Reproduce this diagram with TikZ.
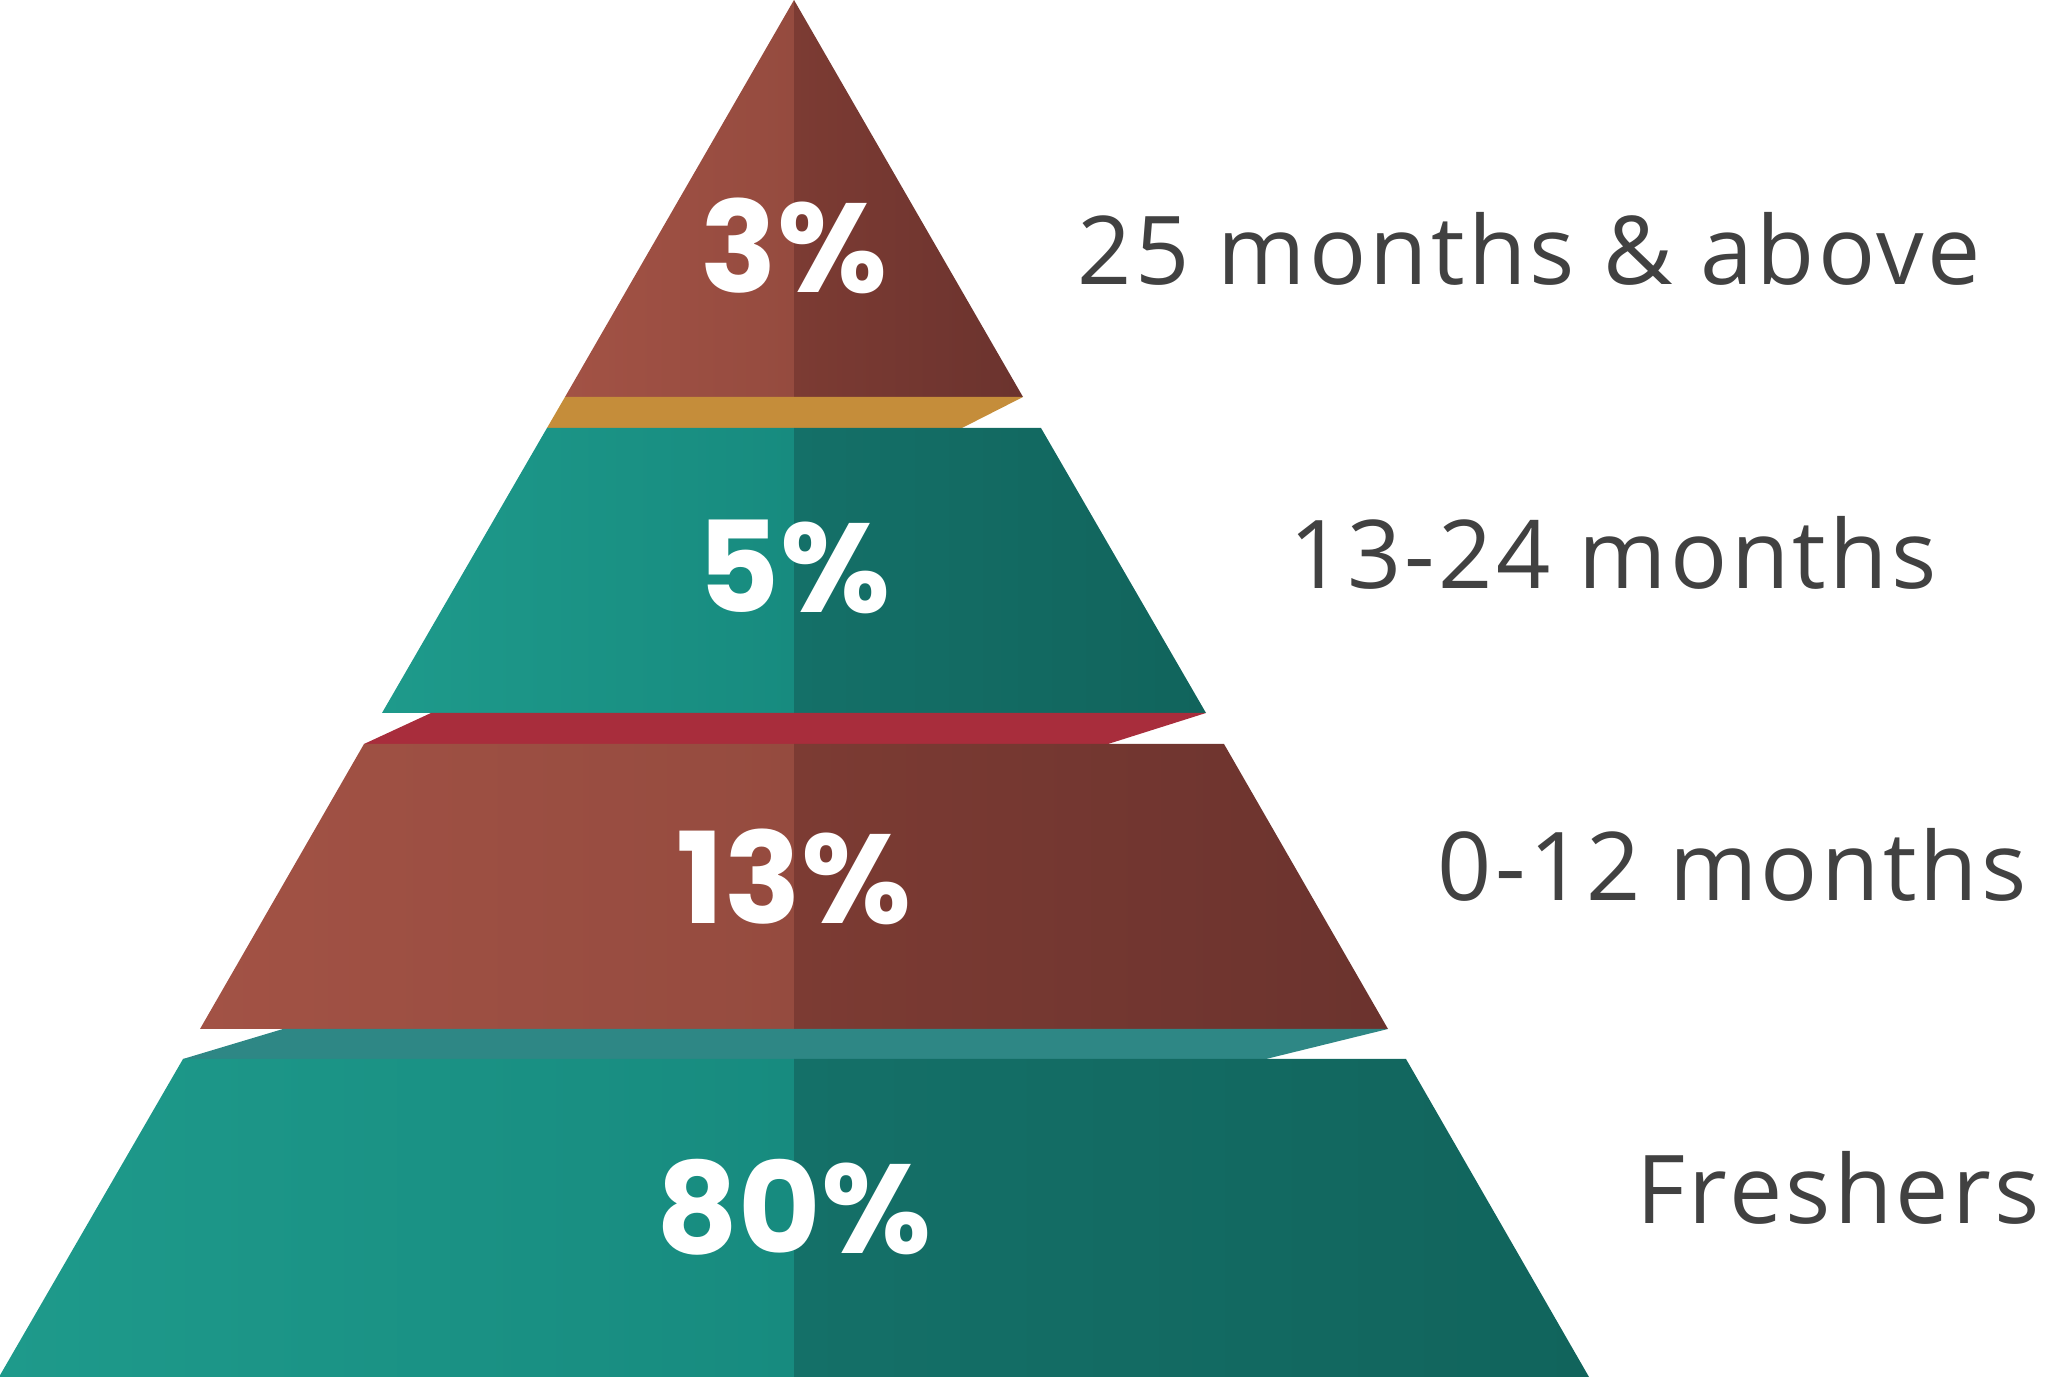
\documentclass[tikz,border=0pt]{standalone}
\usepackage{fontspec}
\setmainfont{Poppins}
\newfontfamily\tierfont[LetterSpace=3.5]{Open Sans}
\usepackage{xcolor}
\usepackage{tikz}
\usetikzlibrary{positioning}

\definecolor{rustL}{HTML}{A25245}
\definecolor{rustM}{HTML}{954B3F}
\definecolor{rustD}{HTML}{7C3B33}
\definecolor{rustDD}{HTML}{6B332E}
\definecolor{tealL}{HTML}{1E9A8B}
\definecolor{tealM}{HTML}{178B7F}
\definecolor{tealD}{HTML}{147068}
\definecolor{tealDD}{HTML}{11645C}
\definecolor{goldband}{HTML}{C58D3A}
\definecolor{redband}{HTML}{A82D3C}
\definecolor{tealband}{HTML}{2E8785}
\definecolor{tiergray}{HTML}{414141}

\begin{document}
\begin{tikzpicture}[
        x=0.01cm, y=-0.01cm,
        rustleft/.style={left color=rustL, right color=rustM},
        rustright/.style={left color=rustD, right color=rustDD},
        tealleft/.style={left color=tealL, right color=tealM},
        tealright/.style={left color=tealD, right color=tealDD},
        pct/.style={
            text=white,
            font=\fontsize{36}{40}\selectfont\bfseries,
            inner sep=0pt
        },
        tier/.style={
            anchor=base west,
            text=tiergray,
            font=\tierfont\fontsize{27}{30}\selectfont,
            inner sep=0pt
        }
    ]

    \useasboundingbox (0,0) rectangle (2048,1377);

    % top: 25 months & above
    \shade[rustleft] (794,0) -- (565,397) -- (794,397) -- cycle;
    \shade[rustright] (794,0) -- (794,397) -- (1023,397) -- cycle;
    \fill[goldband] (565,397) -- (1023,397) -- (962,428) -- (547,428) -- cycle;

    % 13-24 months
    \shade[tealleft] (547,428) -- (794,428) -- (794,713) -- (382,713) -- cycle;
    \shade[tealright] (794,428) -- (1041,428) -- (1206,713) -- (794,713) -- cycle;
    \fill[redband] (431,713) -- (1206,713) -- (1108,744) -- (364,744) -- cycle;

    % 0-12 months
    \shade[rustleft] (364,744) -- (794,744) -- (794,1029) -- (200,1029) -- cycle;
    \shade[rustright] (794,744) -- (1224,744) -- (1388,1029) -- (794,1029) -- cycle;
    \fill[tealband] (283,1029) -- (1388,1029) -- (1266,1059) -- (183,1059) -- cycle;

    % freshers
    \shade[tealleft] (183,1059) -- (794,1059) -- (794,1377) -- (-1,1377) -- cycle;
    \shade[tealright] (794,1059) -- (1406,1059) -- (1589,1377) -- (794,1377) -- cycle;

    \node (p3) [pct] at (794,246) {3\%};
    \node (p5) [pct] at (794,567) {5\%};
    \node (p13) [pct] at (794,877) {13\%};
    \node (p80) [pct] at (794,1207) {80\%};

    \node (t25) [tier] at (1077,285) {25 months \& above};
    \node (t13) [tier] at (1289,589) {13-24 months};
    \node (t0) [tier] at (1437,901) {0-12 months};
    \node (tf) [tier] at (1636,1224) {Freshers};

\end{tikzpicture}
\end{document}
